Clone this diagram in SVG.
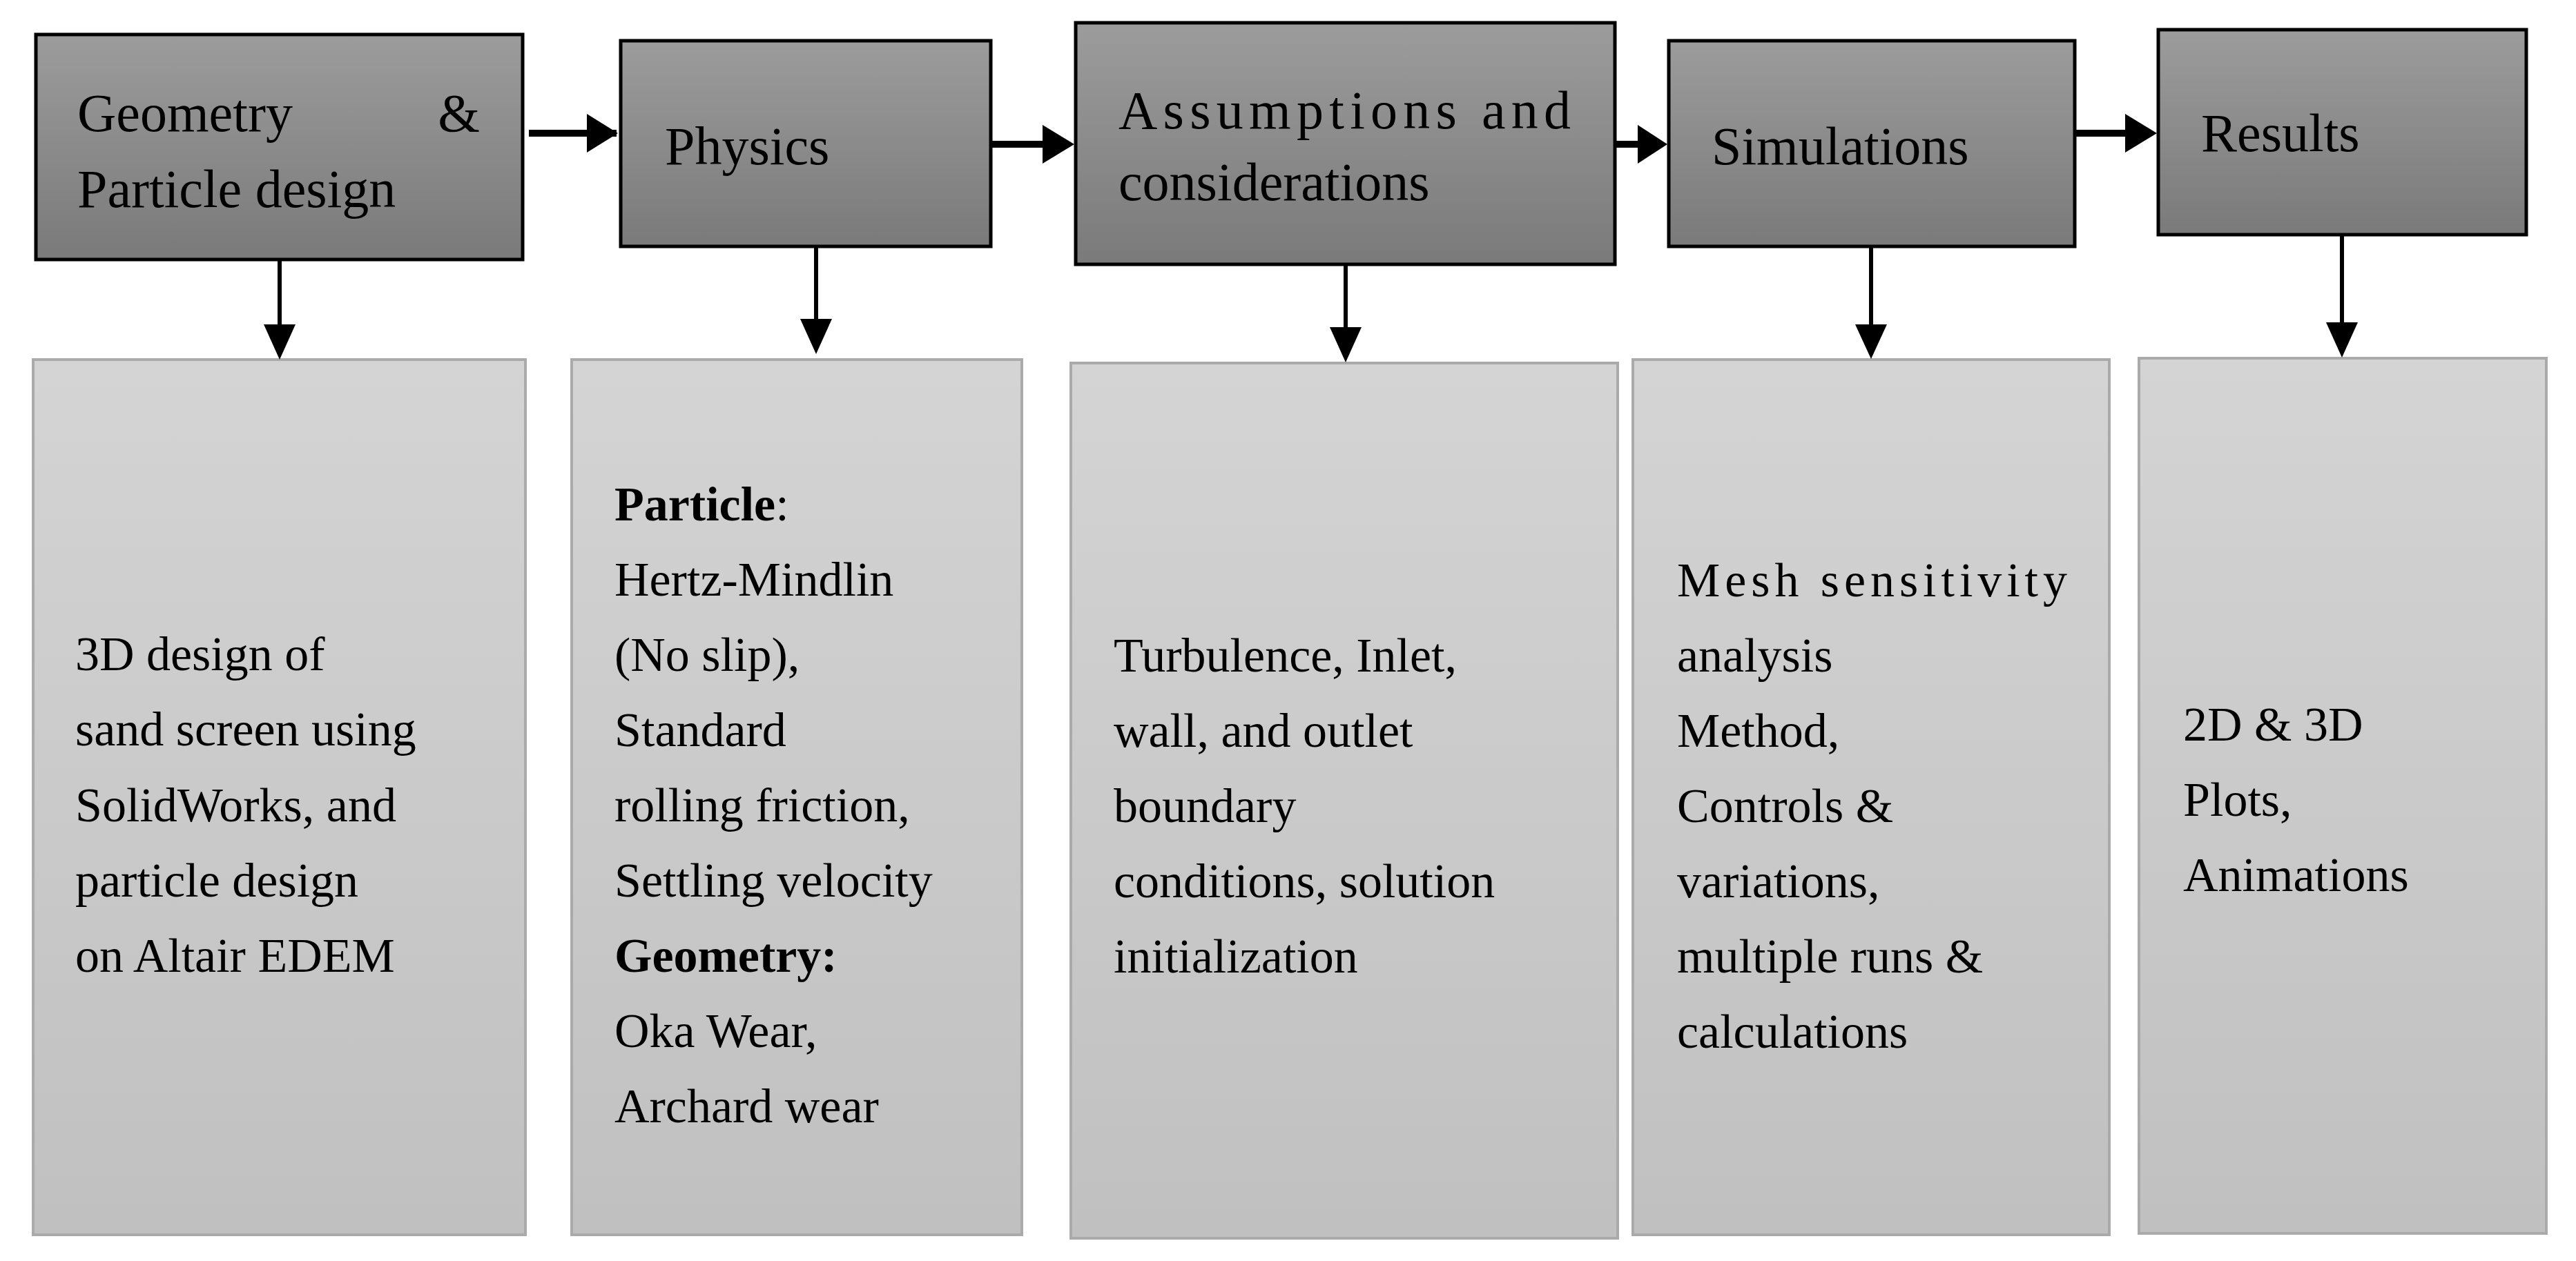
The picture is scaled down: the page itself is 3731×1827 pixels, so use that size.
<svg xmlns="http://www.w3.org/2000/svg" width="3731" height="1827" viewBox="0 0 3731 1827">
<defs>
<linearGradient id="gt" x1="0" y1="0" x2="0" y2="1"><stop offset="0" stop-color="#9c9c9c"/><stop offset="1" stop-color="#7a7a7a"/></linearGradient>
<linearGradient id="gb" x1="0" y1="0" x2="0" y2="1"><stop offset="0" stop-color="#d4d4d4"/><stop offset="1" stop-color="#c0c0c0"/></linearGradient>
<marker id="ah" viewBox="0 0 10 10" refX="10" refY="5" markerWidth="8" markerHeight="8" markerUnits="userSpaceOnUse" orient="auto"><path d="M0,0 L10,5 L0,10 z" fill="#000"/></marker>
</defs>
<style>
.top{fill:url(#gt);stroke:#000;stroke-width:5}
.bot{fill:url(#gb);stroke:#aaa;stroke-width:4}
text{font-family:"Liberation Serif","DejaVu Serif",serif;fill:#000}
.tt{font-size:78px}
.bt{font-size:70px}
.h{stroke:#000;stroke-width:10;fill:none}
.v{stroke:#000;stroke-width:6;fill:none}
</style>
<rect width="3731" height="1827" fill="#fff"/>
<g id="n1"><rect class="top" x="52" y="50" width="705" height="326"/><text class="tt" x="112" y="190">Geometry</text><text class="tt" x="695" y="190" text-anchor="end">&amp;</text><text class="tt" x="112" y="300">Particle design</text></g>
<g id="n2"><rect class="top" x="899" y="59" width="536" height="298"/><text class="tt" x="963" y="238">Physics</text></g>
<g id="n3"><rect class="top" x="1558" y="33" width="781" height="350"/><text class="tt" x="1620" y="186" textLength="655">Assumptions and</text><text class="tt" x="1620" y="290">considerations</text></g>
<g id="n4"><rect class="top" x="2417" y="59" width="588" height="298"/><text class="tt" x="2479" y="238">Simulations</text></g>
<g id="n5"><rect class="top" x="3126" y="43" width="533" height="297"/><text class="tt" x="3188" y="219">Results</text></g>
<g id="b1"><rect class="bot" x="48" y="521" width="713" height="1268"/><text class="bt" x="109" y="971">3D design of</text><text class="bt" x="109" y="1080">sand screen using</text><text class="bt" x="109" y="1190">SolidWorks, and</text><text class="bt" x="109" y="1299">particle design</text><text class="bt" x="109" y="1408">on Altair EDEM</text></g>
<g id="b2"><rect class="bot" x="828" y="521" width="652" height="1268"/><text class="bt" x="890" y="754"><tspan font-weight="bold">Particle</tspan>:</text><text class="bt" x="890" y="863">Hertz-Mindlin</text><text class="bt" x="890" y="972">(No slip),</text><text class="bt" x="890" y="1081">Standard</text><text class="bt" x="890" y="1190">rolling friction,</text><text class="bt" x="890" y="1299">Settling velocity</text><text class="bt" x="890" y="1408" font-weight="bold">Geometry:</text><text class="bt" x="890" y="1517">Oka Wear,</text><text class="bt" x="890" y="1626">Archard wear</text></g>
<g id="b3"><rect class="bot" x="1551" y="526" width="792" height="1268"/><text class="bt" x="1613" y="973">Turbulence, Inlet,</text><text class="bt" x="1613" y="1082">wall, and outlet</text><text class="bt" x="1613" y="1191">boundary</text><text class="bt" x="1613" y="1300">conditions, solution</text><text class="bt" x="1613" y="1409">initialization</text></g>
<g id="b4"><rect class="bot" x="2365" y="521" width="690" height="1268"/><text class="bt" x="2429" y="864" textLength="565">Mesh sensitivity</text><text class="bt" x="2429" y="973">analysis</text><text class="bt" x="2429" y="1082">Method,</text><text class="bt" x="2429" y="1191">Controls &amp;</text><text class="bt" x="2429" y="1300">variations,</text><text class="bt" x="2429" y="1409">multiple runs &amp;</text><text class="bt" x="2429" y="1518">calculations</text></g>
<g id="b5"><rect class="bot" x="3098" y="519" width="590" height="1268"/><text class="bt" x="3162" y="1073">2D &amp; 3D</text><text class="bt" x="3162" y="1182">Plots,</text><text class="bt" x="3162" y="1291">Animations</text></g>
<g id="connectors">
<line class="h" x1="766" y1="193" x2="893" y2="193" marker-end="url(#ah)" style="marker-end:none"/>
<path d="M850,165 L895,193 L850,221 z"/>
<line class="h" x1="1435" y1="209" x2="1515" y2="209"/><path d="M1510,181 L1556,209 L1510,237 z"/>
<line class="h" x1="2341" y1="209" x2="2380" y2="209"/><path d="M2372,181 L2415,209 L2372,237 z"/>
<line class="h" x1="3007" y1="193" x2="3085" y2="193"/><path d="M3078,165 L3124,193 L3078,221 z"/>
<line class="v" x1="405" y1="376" x2="405" y2="480"/><path d="M382,470 L405,521 L428,470 z"/>
<line class="v" x1="1182" y1="357" x2="1182" y2="470"/><path d="M1159,462 L1182,513 L1205,462 z"/>
<line class="v" x1="1949" y1="383" x2="1949" y2="480"/><path d="M1926,474 L1949,525 L1972,474 z"/>
<line class="v" x1="2710" y1="357" x2="2710" y2="480"/><path d="M2687,470 L2710,520 L2733,470 z"/>
<line class="v" x1="3392" y1="340" x2="3392" y2="470"/><path d="M3369,467 L3392,518 L3415,467 z"/>
</g>
</svg>
